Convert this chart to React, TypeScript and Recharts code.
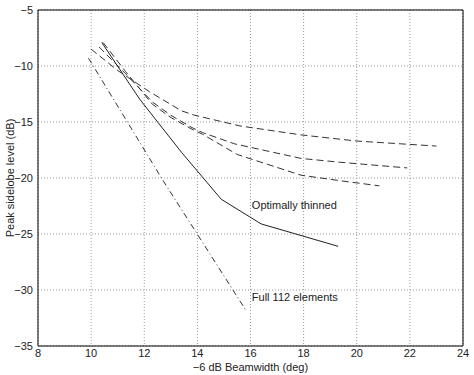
import React from "react";
import {
  LineChart,
  Line,
  XAxis,
  YAxis,
  CartesianGrid,
  ReferenceLine,
  ReferenceDot,
} from "recharts";

// tick labels
const xTicks = [8, 10, 12, 14, 16, 18, 20, 22, 24];
const yTicks = [-35, -30, -25, -20, -15, -10, -5];

// optimally thinned (solid)
const thinnedX = [10.4, 11.84, 13.4, 14.9, 16.4, 19.3];
const thinnedY = [-7.9, -13.0, -17.7, -21.9, -24.1, -26.1];

// full 112 elements (dash-dot)
const fullX = [9.9, 12.7, 15.85];
const fullY = [-9.3, -20.2, -31.9];

// dashed curves
const dashAX = [10.0, 11.0, 12.2, 13.4, 13.9, 15.6, 17.9, 20.0, 23.0];
const dashAY = [-8.5, -10.4, -12.3, -14.0, -14.4, -15.35, -16.15, -16.7, -17.15];

const dashBX = [10.3, 11.3, 12.3, 13.0, 13.8, 14.2, 15.4, 17.9, 19.4, 21.9];
const dashBY = [-8.3, -10.7, -13.2, -14.4, -15.5, -15.95, -16.95, -18.25, -18.6, -19.1];

const dashCX = [10.45, 11.3, 12.3, 13.0, 13.8, 14.2, 15.5, 17.9, 19.4, 20.85];
const dashCY = [-7.9, -10.5, -13.4, -14.6, -15.65, -16.1, -17.9, -19.75, -20.25, -20.7];

const zip = (xs: number[], ys: number[]) => xs.map((x, i) => ({ x, y: ys[i] }));

const font = "'Liberation Sans', Arial, sans-serif";
const ink = "#222";

const YLabel = () => (
  <text
    x={10}
    y={178}
    transform="rotate(-90 10 178)"
    textAnchor="middle"
    dominantBaseline="central"
    fontSize={11}
    fill={ink}
    fontFamily={font}
  >
    Peak sidelobe level (dB)
  </text>
);

export default function App() {
  return (
    <div style={{ position: "absolute", left: 0, top: 0, background: "#fff" }}>
      <LineChart
        width={474}
        height={375}
        margin={{ top: 10, right: 11, bottom: 0, left: 0 }}
      >
        <CartesianGrid stroke="#999" strokeDasharray="1 2" />
        <XAxis
          type="number"
          dataKey="x"
          domain={[8, 24]}
          ticks={xTicks}
          height={29}
          tickLine={false}
          tickSize={0}
          tickMargin={3}
          stroke="#000"
          tick={{ fontSize: 11, fill: ink, fontFamily: font }}
          allowDataOverflow
          label={{
            value: "\u22126 dB Beamwidth (deg)",
            position: "insideBottom",
            offset: 4,
            fontSize: 11,
            fill: ink,
            fontFamily: font,
          }}
        />
        <YAxis
          type="number"
          dataKey="y"
          domain={[-35, -5]}
          ticks={yTicks}
          width={38}
          tickLine={false}
          tickSize={0}
          tickMargin={5}
          stroke="#000"
          tick={{ fontSize: 11, fill: ink, fontFamily: font }}
          tickFormatter={(v: number) => String(v).replace("-", "\u2212")}
          allowDataOverflow
          label={{ content: () => <YLabel /> }}
        />
        <ReferenceLine y={-5} stroke="#000" />
        <ReferenceLine x={24} stroke="#000" />
        <Line
          data={zip(dashAX, dashAY)}
          dataKey="y"
          type="linear"
          stroke="#333"
          strokeDasharray="7 4"
          dot={false}
          isAnimationActive={false}
        />
        <Line
          data={zip(dashBX, dashBY)}
          dataKey="y"
          type="linear"
          stroke="#333"
          strokeDasharray="7 4"
          dot={false}
          isAnimationActive={false}
        />
        <Line
          data={zip(dashCX, dashCY)}
          dataKey="y"
          type="linear"
          stroke="#333"
          strokeDasharray="7 4"
          dot={false}
          isAnimationActive={false}
        />
        <Line
          data={zip(fullX, fullY)}
          dataKey="y"
          type="linear"
          stroke="#333"
          strokeDasharray="6 3 1 3"
          dot={false}
          isAnimationActive={false}
        />
        <Line
          data={zip(thinnedX, thinnedY)}
          dataKey="y"
          type="linear"
          stroke="#222"
          dot={false}
          isAnimationActive={false}
        />
        <ReferenceDot
          x={16.05}
          y={-22.45}
          r={0}
          fill="none"
          stroke="none"
          label={{
            value: "Optimally thinned",
            position: "right",
            offset: 0,
            fontSize: 11,
            fill: ink,
            fontFamily: font,
          }}
        />
        <ReferenceDot
          x={16.05}
          y={-30.6}
          r={0}
          fill="none"
          stroke="none"
          label={{
            value: "Full 112 elements",
            position: "right",
            offset: 0,
            fontSize: 11,
            fill: ink,
            fontFamily: font,
          }}
        />
      </LineChart>
    </div>
  );
}
